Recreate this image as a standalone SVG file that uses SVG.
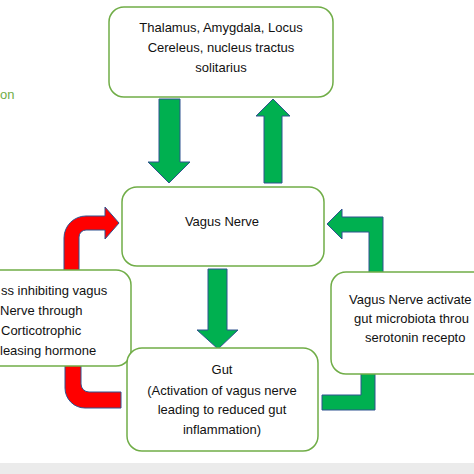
<svg xmlns="http://www.w3.org/2000/svg" width="474" height="474" viewBox="0 0 474 474">
<style>
.box{fill:#fff;stroke:#70AD47;stroke-width:1.5}
.t{font-family:"Liberation Sans",Arial,sans-serif;font-size:13px;fill:#111}
.m{text-anchor:middle}
.g{fill:#00B050;stroke:#2F528F;stroke-width:1}
.r{fill:#FF0000;stroke:#2F528F;stroke-width:1}
</style>
<rect x="0" y="0" width="474" height="474" fill="#fff"/>
<rect x="0" y="463" width="474" height="11" fill="#EBEBEB"/>
<text x="0" y="99" class="t" style="fill:#70AD47">on</text>
<g id="connectors">
<polygon class="g" points="159,99 180,99 180,162 190,162 169,183 148,162 159,162"/>
<polygon class="g" points="273,99 290,116 282,116 282,183 264,183 264,116 256,116"/>
<polygon class="g" points="208,269 227,269 227,330 238,330 218,349 197,330 208,330"/>
<path class="r" d="M64,300 L64,238 A22,22 0 0 1 86,216 L105,216 L105,207 L119,223 L105,239 L105,230 L86,230 A7,7 0 0 0 79,237 L79,300 Z"/>
<path class="r" d="M65,340 L65,388 A20,20 0 0 0 85,408 L121,408 L121,392 L89,392 A8,8 0 0 1 81,384 L81,340 Z"/>
<path class="g" d="M327,224 L342,209 L342,217 L383,217 L383,290 L369,290 L369,232 L342,232 L342,239 Z"/>
<path class="g" d="M361,350 L375,350 L375,410 L322,410 L322,395 L361,395 Z"/>
</g>
<g id="node-brain">
<rect class="box" x="109" y="7" width="224" height="90" rx="15"/>
<text class="t m" x="221" y="32">Thalamus, Amygdala, Locus</text>
<text class="t m" x="221" y="52">Cereleus, nucleus tractus</text>
<text class="t m" x="221" y="72">solitarius</text>
</g>
<g id="node-vagus">
<rect class="box" x="122" y="187" width="202" height="79" rx="15"/>
<text class="t m" x="222" y="226">Vagus Nerve</text>
</g>
<g id="node-stress">
<rect class="box" x="-20" y="270" width="151" height="96" rx="15"/>
<text class="t" x="1" y="295">ss inhibiting vagus</text>
<text class="t" x="0" y="315">Nerve through</text>
<text class="t" x="1" y="335">Corticotrophic</text>
<text class="t" x="0" y="355">leasing hormone</text>
</g>
<g id="node-gut">
<rect class="box" x="127" y="348" width="191" height="103" rx="15"/>
<text class="t m" x="222" y="374">Gut</text>
<text class="t m" x="222" y="395">(Activation of vagus nerve</text>
<text class="t m" x="222" y="414">leading to reduced gut</text>
<text class="t m" x="222" y="434">inflammation)</text>
</g>
<g id="node-microbiota">
<rect class="box" x="331" y="272" width="160" height="102" rx="15"/>
<text class="t" x="349" y="304">Vagus Nerve activate</text>
<text class="t" x="354" y="323">gut microbiota throu</text>
<text class="t" x="365" y="342">serotonin recepto</text>
</g>
</svg>
